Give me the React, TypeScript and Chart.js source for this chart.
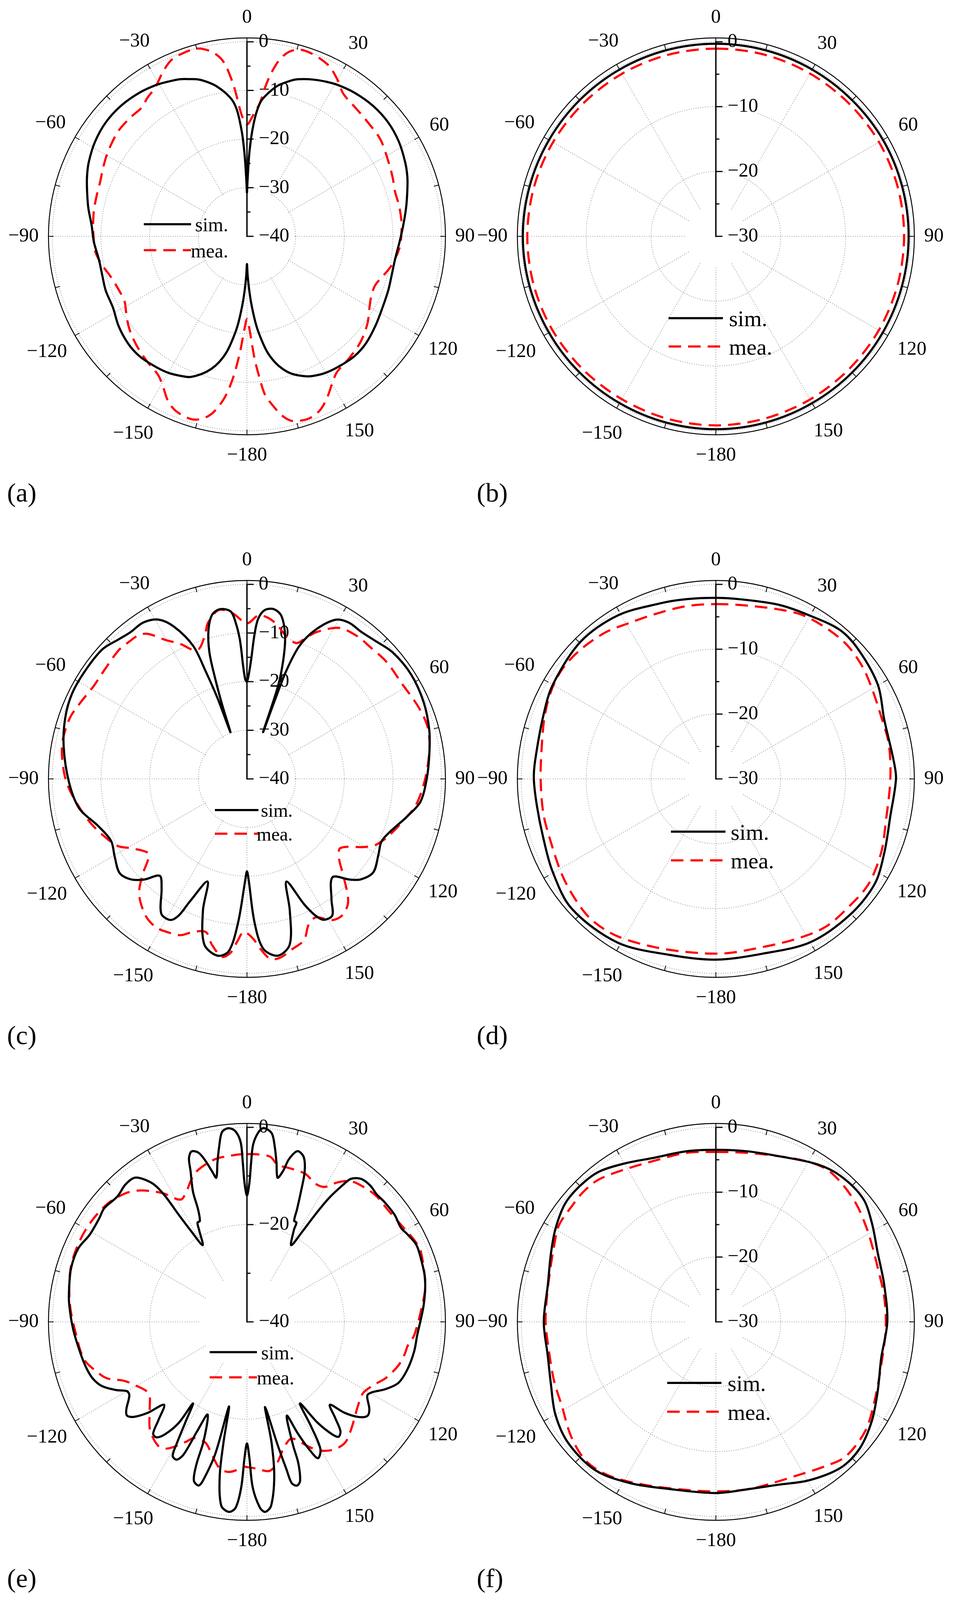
import React, { useEffect, useRef } from 'react';
import { Chart, registerables } from 'chart.js';

Chart.register(...registerables);

// ---------- tick labels ----------
const ANGLE_TICKS = [0, 30, 60, 90, 120, 150, 180, 210, 240, 270, 300, 330];
const ANGLE_TICK_LABELS = ['0', '30', '60', '90', '120', '150', '−180', '−150', '−120', '−90', '−60', '−30'];
const RADIAL_TICKS_40 = [0, -10, -20, -30, -40];
const RADIAL_TICKS_40E = [0, -20, -40];
const RADIAL_TICKS_30 = [0, -10, -20, -30];
const SERIES_NAMES = ['sim.', 'mea.'];
const PANEL_NAMES = ['(a)', '(b)', '(c)', '(d)', '(e)', '(f)'];

// angular category grid (0.5 degree steps, clockwise from top)
const STEP = 0.5;
const ANGLE_GRID = Array.from({ length: 720 }, (_, i) => i * STEP);

// ---------- data: [angle (deg), gain (dB)] ----------
const A_SIM = [[-180,-34.3],[-179,-32],[-177.5,-28.7],[-176,-25.5],[-174,-21.5],[-172,-18.5],[-170,-15.8],[-167.5,-13.5],[-165,-11.8],[-162,-10.3],[-158,-8.8],[-155,-8.3],[-150,-7.6],[-144,-7.2],[-138,-6.9],[-132,-7.1],[-125,-7.8],[-118,-8.8],[-111,-8.9],[-105,-9.2],[-99,-9.2],[-92,-8.5],[-86,-8.0],[-80,-6.9],[-75,-6.0],[-70,-5.0],[-65,-4.1],[-58,-3.2],[-51,-2.7],[-44,-2.7],[-37,-3.1],[-31,-3.7],[-27,-4.3],[-23,-4.9],[-20,-5.6],[-17,-6.3],[-14,-7.4],[-11.5,-8.5],[-8.5,-10.2],[-6,-12],[-4.5,-14],[-3.5,-16.5],[-2.5,-19.5],[-1.5,-24],[-0.5,-29],[0,-31],[0.5,-29],[1.5,-23.5],[2.5,-19.5],[3.5,-16.5],[4.5,-14.2],[6,-12],[8.5,-10.2],[11.5,-8.4],[14,-7.4],[17,-6.3],[20,-5.6],[23,-5.0],[27,-4.3],[31,-3.7],[37,-3.1],[44,-2.7],[51,-2.7],[58,-3.2],[65,-4.1],[70,-4.9],[75,-5.9],[80,-6.8],[86,-7.8],[92,-8.6],[99,-9.2],[105,-9.2],[111,-8.9],[118,-8.5],[125,-7.8],[132,-7.1],[138,-6.9],[144,-7.2],[150,-7.6],[155,-8.3],[158,-9.0],[162,-10.3],[165,-11.8],[167.5,-13.5],[170,-15.8],[172,-18.5],[174,-21.5],[176,-25.5],[177.5,-28.7],[179,-32]];
const A_MEA = [[-178.5,-21],[-176.5,-16],[-174.5,-11],[-172.5,-7.1],[-170.5,-4.5],[-168.5,-2.6],[-166,-1.3],[-163,-0.7],[-158,-1.2],[-154.5,-2.4],[-151,-4.5],[-147.5,-6.1],[-142,-7.0],[-136.5,-7.8],[-131,-8.7],[-126.5,-9.6],[-122,-10.7],[-118,-11.5],[-112,-11.4],[-106,-10.7],[-101,-9.6],[-96,-8.7],[-91,-8.5],[-86,-8.3],[-80.5,-8.1],[-75,-8.0],[-69.5,-7.8],[-65,-7.3],[-60,-6.7],[-55,-6.2],[-50,-5.8],[-44,-5.8],[-39,-5.8],[-36,-5.0],[-31.5,-4.0],[-27,-2.0],[-23,-0.5],[-19,-0.1],[-15.5,0],[-13,-0.5],[-10,-1.8],[-7.5,-4.0],[-5,-9.0],[-2.5,-15],[0,-17],[3,-15],[5.5,-12.5],[7,-9],[8.5,-6],[10.5,-3.0],[13,-1.0],[16,-0.1],[19,-0.1],[22.5,-0.5],[26,-1.2],[30,-2.8],[34,-4.6],[40,-5.4],[46,-5.8],[54,-6.1],[62,-7.1],[68,-7.7],[73,-8.2],[79,-8.1],[85,-8.1],[90,-8.3],[94,-8.5],[101,-9.6],[106,-10.8],[111,-11.8],[116,-11.6],[120,-10.9],[126,-9.4],[133,-8.1],[140,-7.3],[146.5,-6.5],[150,-5.0],[153.5,-3.0],[157,-1.3],[160.5,-0.5],[163.5,-0.5],[166.5,-1.0],[169,-2.5],[171.5,-5.0],[173.5,-7.2],[175,-11.0],[176.5,-15.0],[178.5,-21],[180,-23]];

const B_SIM = [[0,-0.3],[15,-0.3],[30,-0.3],[45,-0.3],[60,-0.25],[75,-0.27],[90,-0.28],[105,-0.3],[120,-0.3],[135,-0.3],[150,-0.3],[165,-0.27],[180,-0.25],[-165,-0.27],[-150,-0.3],[-135,-0.3],[-120,-0.3],[-105,-0.27],[-90,-0.24],[-75,-0.27],[-60,-0.3],[-45,-0.3],[-30,-0.3],[-15,-0.3]];
const B_MEA = [[0,-1.05],[15,-1.0],[30,-1.0],[45,-1.0],[60,-0.95],[75,-0.95],[90,-0.98],[105,-1.0],[120,-1.0],[135,-1.0],[150,-0.95],[165,-0.9],[180,-0.84],[-165,-0.9],[-150,-1.0],[-135,-1.0],[-120,-0.95],[-105,-0.93],[-90,-0.93],[-75,-0.95],[-60,-1.0],[-45,-1.05],[-30,-1.05],[-15,-1.05]];

const C_SIM = [[-179,-19.1],[-176.5,-10.5],[-174,-4.4],[-170.5,-3.15],[-165.5,-4.9],[-161.5,-11.5],[-159,-17.4],[-155,-12.15],[-153.5,-8.65],[-151.5,-7.0],[-147.5,-7.2],[-142,-11.5],[-138,-13.2],[-134.5,-10.5],[-131,-8.5],[-126.5,-7.45],[-120.5,-8.45],[-114.5,-9.3],[-107.5,-7.9],[-100,-5.0],[-91,-3.4],[-80,-1.74],[-71.5,-0.6],[-64,0],[-56,0],[-48,-0.1],[-42.5,-1.04],[-38.5,-1.48],[-33.5,-1.43],[-29,-2.55],[-25.5,-5.4],[-22,-10.5],[-21,-16.2],[-20,-22.5],[-19.5,-29.8],[-18.5,-24],[-17.5,-18],[-16.5,-12.8],[-14.5,-8.4],[-12,-5.5],[-9,-4.66],[-5.5,-5.45],[-4,-8.1],[-3,-11],[-2.5,-13.5],[-2,-16.5],[-1,-19.5],[0,-20],[1,-18.5],[2,-15.5],[3,-10.2],[4,-7.0],[6,-5.1],[9,-4.66],[12,-5.8],[15,-9.7],[17,-14.5],[18.5,-19.9],[19,-29.8],[19.5,-23.2],[20,-16.3],[21.5,-10.65],[24.5,-6.45],[29,-2.6],[33,-1.65],[38,-1.7],[42.5,-1.3],[49,-0.33],[57.5,0],[66.5,-0.4],[75,-1.2],[82.5,-2.2],[90,-3.05],[97.5,-4.03],[103,-6.1],[110.5,-8.7],[115,-9.5],[120,-8.8],[126.5,-7.7],[131.5,-8.8],[134.5,-10.5],[139,-13.2],[145,-9.7],[148,-6.9],[151.5,-7.05],[153.5,-8.7],[155.5,-11.7],[159,-17.4],[162,-11.5],[165.5,-4.85],[170,-3.1],[174.5,-4.9],[177,-10.5],[179,-19.1],[180,-21]];
const C_MEA = [[-178.5,-8.5],[-176.5,-6.4],[-174.5,-4.0],[-172,-3.07],[-168,-5.2],[-165,-7.4],[-160.5,-6.6],[-157,-5.1],[-152.5,-4.5],[-148.5,-4.2],[-143.5,-5.0],[-137,-7.5],[-132.5,-10.9],[-129,-13.9],[-126.5,-14.55],[-121,-12.3],[-117.5,-10.1],[-112,-8.4],[-105,-6.4],[-96,-4.1],[-90,-2.7],[-83,-1.7],[-78,-1.3],[-71,-1.5],[-65,-2.4],[-59,-3.15],[-52,-3.1],[-45,-2.65],[-41,-2.8],[-36.5,-3.06],[-34,-4.1],[-30.5,-6.8],[-26,-9.2],[-23,-11.1],[-20,-11.45],[-16,-8.9],[-14,-6.9],[-9.5,-4.8],[-5,-5.8],[0,-8.0],[4,-6.3],[7.5,-6.6],[11,-7.7],[15.5,-9.6],[20,-10.3],[22.5,-8.7],[25.5,-6.5],[31.5,-3.6],[38,-2.9],[43,-2.9],[50,-2.55],[58.5,-2.6],[66.5,-1.85],[73,-1.36],[78.5,-1.7],[84.5,-2.55],[91.5,-3.6],[99,-4.9],[105,-6.76],[111.5,-8.5],[117,-10.2],[120,-12],[126.5,-16.1],[131,-14.9],[135,-12],[140.5,-7.3],[145,-5.8],[149,-6.1],[153.5,-8.2],[157,-7.5],[160.5,-4.85],[165,-3.8],[169.5,-2.6],[172.5,-2.65],[175,-4.5],[177.5,-6.9],[180,-8.3]];

const D_SIM = [[-165.5,-1.95],[-149,-0.56],[-132,-0.1],[-119.5,-1.06],[-108.5,-1.9],[-98.5,-2.1],[-90,-1.94],[-84,-2.0],[-70,-1.68],[-60,-0.97],[-44.5,-0.29],[-31,-0.6],[-17.5,-1.6],[-9.5,-1.9],[0,-2.08],[8,-2.04],[20,-1.44],[30,-0.94],[40,-0.1],[48.5,-0.37],[60,-1.13],[70.5,-2.47],[84,-2.45],[90,-2.23],[102,-2.5],[113.5,-1.66],[123.5,-0.64],[135.5,-0.56],[150,-0.9],[165,-2.1],[180,-2.13]];
const D_MEA = [[-172,-2.98],[-160,-2.39],[-148,-1.38],[-139,-1.03],[-131.5,-1.4],[-122,-2.05],[-109.5,-2.8],[-101,-2.88],[-90,-2.99],[-79.5,-2.7],[-70,-1.9],[-62,-1.22],[-54.5,-0.89],[-46.5,-1.13],[-37,-1.71],[-29,-2.5],[-20.5,-2.9],[-10,-2.97],[0,-3.04],[10.5,-2.83],[20.5,-2.11],[28,-1.41],[37,-1.16],[44.5,-1.1],[52.5,-1.53],[60,-2.2],[69,-2.75],[78.5,-2.8],[90,-3.1],[104,-2.99],[114,-2.1],[124.5,-1.42],[133.5,-1.56],[143.5,-1.6],[154,-2.44],[167.5,-3.15],[177.5,-3.06]];

const E_SIM = [[-179,-12.15],[-178,-5.9],[-176.5,-1.7],[-174.5,-0.75],[-172,-1.9],[-170,-7.75],[-169,-14.7],[-168,-22.2],[-166.5,-12.05],[-164.5,-6.1],[-163.5,-4.9],[-161.5,-5.6],[-160.5,-8.8],[-160,-14.0],[-157,-19.3],[-155.5,-15.2],[-154.5,-9.85],[-153,-8.2],[-151,-8.5],[-150,-11.2],[-148.5,-15.75],[-146.5,-19.9],[-146,-15.0],[-144,-11.5],[-142,-9.85],[-140,-10.0],[-138,-12.8],[-135,-15.9],[-132.5,-12.3],[-130,-9.6],[-128,-8.7],[-126,-9.35],[-122,-11.5],[-120,-11.5],[-117.5,-9.65],[-114,-7.45],[-110.5,-6.3],[-106.5,-5.7],[-101,-5.2],[-92.5,-4.25],[-84.5,-3.3],[-80,-2.86],[-73,-2.2],[-66.5,-2.18],[-61,-3.04],[-55,-2.92],[-51.5,-2.5],[-46,-2.93],[-41.5,-2.3],[-38,-2.4],[-36,-3.7],[-34,-6.0],[-33,-9.2],[-32.5,-13.8],[-31.5,-18.4],[-30,-21.8],[-27.5,-18.7],[-26.5,-17.2],[-25,-17.1],[-23.5,-14.8],[-22.5,-11.0],[-20.5,-6.9],[-19.5,-4.3],[-18,-3.15],[-16,-3.8],[-14.5,-5.7],[-13,-8.3],[-12,-9.7],[-10.5,-6.7],[-9,-3.5],[-7.5,-0.65],[-5.5,0],[-3.5,-0.7],[-2,-3.05],[-1.5,-7.2],[-1,-11.45],[0,-14],[1,-11.45],[1.5,-7.2],[2,-3.5],[3.5,-0.9],[5,0],[7.5,-0.9],[9,-3.5],[10.5,-6.7],[12,-9.7],[13.5,-8.0],[14.5,-5.4],[16.5,-3.4],[19,-4.15],[21,-6.9],[22.5,-11],[24,-14.75],[25,-17.05],[26.5,-17.2],[27,-18.7],[30,-21.8],[31.5,-18.3],[32.5,-13.7],[33.5,-9.5],[35,-5.66],[36,-3.65],[38.5,-2.4],[42,-2.2],[45.5,-2.6],[49,-2.5],[54,-2.5],[58.5,-2.9],[61.5,-2.4],[65.5,-1.75],[70,-1.95],[76.5,-2.35],[84.5,-3.5],[94.5,-4.9],[100,-5.1],[106.5,-5.6],[112,-6.45],[116,-8.4],[119.5,-10.55],[121.5,-11.0],[125.5,-9.1],[128,-8.6],[130.5,-9.9],[133,-12.6],[135,-15.9],[137.5,-13.1],[139.5,-10.4],[141.5,-9.8],[143,-11.2],[145,-14.7],[147,-20],[148.5,-14.7],[150,-9.8],[152.5,-8.4],[154,-10.85],[155.5,-14.75],[157,-19.05],[159.5,-13],[160,-9.2],[161.5,-5.55],[163,-4.8],[164.5,-5.6],[165,-8.55],[166,-13.9],[168,-22.1],[168.5,-14.6],[170,-7.7],[172.5,-1.9],[174.5,-0.75],[176,-1.7],[178,-5.9],[179,-12.15],[180,-15]];
const E_MEA = [[-179,-10.2],[-173.5,-8.95],[-169.5,-9.35],[-165,-11.9],[-161,-13.75],[-155.5,-13.75],[-153,-12.3],[-148,-9.3],[-144.5,-8.65],[-138,-10.2],[-132,-13.1],[-126,-15.0],[-119,-13.4],[-115.5,-11.9],[-112,-9.0],[-109,-7.7],[-103,-5.65],[-94,-4.75],[-84.5,-3.45],[-74,-2.2],[-66.5,-1.83],[-58.5,-1.86],[-50,-2.4],[-43.5,-3.6],[-39.5,-5.0],[-36,-6.8],[-33,-8.5],[-28.5,-11.4],[-25,-10.5],[-21,-8.4],[-17.5,-7.1],[-11,-5.9],[-6.5,-5.7],[-2,-5.5],[0,-5.5],[4,-5.5],[8,-5.7],[10.5,-6.9],[12,-7.2],[15,-7.2],[19.5,-7.2],[22,-7.35],[26.5,-8.3],[30,-7.95],[33,-5.8],[36.5,-4.0],[42,-3.2],[46,-2.9],[51.5,-3.0],[60,-2.3],[64,-1.7],[68,-1.45],[78.5,-2.6],[85,-3.9],[94.5,-5.5],[98.5,-6.6],[101.5,-6.9],[106,-7.6],[112,-9.2],[116.5,-10.9],[121.5,-12.0],[126.5,-11.5],[136,-9.2],[141,-8.0],[146,-8.3],[150.5,-9.6],[153.5,-11.25],[159,-14.3],[163.5,-13.1],[168,-10.3],[171.5,-9.0],[176.5,-9.8],[180,-10.15]];

const F_SIM = [[-164.5,-3.25],[-152,-1.84],[-141,-0.53],[-129.5,-0.55],[-120,-1.43],[-110.5,-2.84],[-101.5,-3.56],[-90,-3.47],[-77.5,-3.47],[-67.5,-2.48],[-60,-1.43],[-52,-0.47],[-45,-0.36],[-38,-0.64],[-30,-1.8],[-20.5,-2.97],[-10,-3.3],[0,-3.47],[10.5,-3.25],[21,-2.65],[32.5,-1.14],[40.5,-0.4],[50,-0.39],[57.5,-1.5],[67,-2.88],[77.5,-3.42],[90,-3.57],[102.5,-3.9],[113,-2.88],[122.5,-1.5],[131.5,-0.44],[139.5,-0.4],[149.5,-1.65],[159,-3.1],[169,-3.72],[180,-3.6]];
const F_MEA = [[-168,-3.59],[-155.5,-2.47],[-145,-1.1],[-137,-0.67],[-128.5,-1.52],[-118.5,-2.96],[-110,-3.45],[-99.5,-3.88],[-90,-3.75],[-81.5,-3.67],[-73.5,-3.3],[-65.5,-2.53],[-58.5,-1.6],[-51.5,-1.52],[-45.5,-1.37],[-39.5,-1.57],[-31,-2.6],[-20.5,-3.42],[-10,-3.54],[0,-3.8],[10.5,-3.49],[21,-2.65],[28.5,-1.7],[35.5,-0.94],[42,-1.13],[50,-1.74],[57.5,-2.56],[63.5,-3.15],[72,-3.7],[81.5,-3.76],[92,-3.79],[104.5,-3.66],[116,-2.72],[126,-1.49],[136,-1.16],[143,-2.1],[152,-3.2],[160.5,-3.65],[169,-3.72],[180,-3.85]];

// ---------- styling / layout ----------
const FONT = '"Liberation Serif", "Times New Roman", serif';
const GRID = '#8a8a8a';
const CW = 1222;
const CH = 1320;
const RAD = 498;
const CY = 605;

const PANELS = [
  { sim: A_SIM, mea: A_MEA, min: -40, labels: RADIAL_TICKS_40, major: 10, minor: 5, grid: [-30, -20, -10, 0], left: 0, top: 0, cx: 632, spoke: 122, nameX: 18,
    lg: { y1: -31, y2: 35.6, x0: -264, x1: -143, tx: -48, align: 'right', size: 50 } },
  { sim: B_SIM, mea: B_MEA, min: -30, labels: RADIAL_TICKS_30, major: 10, minor: 5, grid: [-20, -10, 0], left: 1212, top: 0, cx: 620, spoke: 80, nameX: 8,
    lg: { y1: 209.6, y2: 282, x0: -121, x1: 18, tx: 33.5, align: 'left', size: 58 } },
  { sim: C_SIM, mea: C_MEA, min: -40, labels: RADIAL_TICKS_40, major: 10, minor: 5, grid: [-30, -20, -10, 0], left: 0, top: 1389, cx: 632, spoke: 122, nameX: 18,
    lg: { y1: 79.7, y2: 140.3, x0: -82, x1: 29.5, tx: 117, align: 'right', size: 48 } },
  { sim: D_SIM, mea: D_MEA, min: -30, labels: RADIAL_TICKS_30, major: 10, minor: 5, grid: [-20, -10, 0], left: 1212, top: 1389, cx: 620, spoke: 80, nameX: 8,
    lg: { y1: 135, y2: 208.6, x0: -115, x1: 24.6, tx: 38, align: 'left', size: 58 } },
  { sim: E_SIM, mea: E_MEA, min: -40, labels: RADIAL_TICKS_40E, major: 20, minor: 10, grid: [-20, 0], left: 0, top: 2779, cx: 632, spoke: 122, nameX: 18,
    lg: { y1: 77.5, y2: 141.9, x0: -95.5, x1: 25.5, tx: 121, align: 'right', size: 50 } },
  { sim: F_SIM, mea: F_MEA, min: -30, labels: RADIAL_TICKS_30, major: 10, minor: 5, grid: [-20, -10, 0], left: 1212, top: 2779, cx: 620, spoke: 80, nameX: 8,
    lg: { y1: 156.3, y2: 230, x0: -124.6, x1: 14.3, tx: 30, align: 'left', size: 58 } },
];

function angleIndex(a) {
  return Math.round((((a % 360) + 360) % 360) / STEP) % ANGLE_GRID.length;
}

function toSeries(pairs) {
  const arr = ANGLE_GRID.map(() => null);
  pairs.forEach(([a, v]) => { arr[angleIndex(a)] = v; });
  return arr;
}

function fmt(v) {
  return v === 0 ? '0' : '−' + Math.abs(v);
}

function decorPlugin(p, name) {
  return {
    id: 'polarDecor',
    beforeDatasetsDraw(chart) {
      const s = chart.scales.r;
      const ctx = chart.ctx;
      const cx = s.xCenter, cy = s.yCenter, R = s.drawingArea;
      const pos = (deg, d) => s.getPointPosition(deg / STEP, d);
      ctx.save();
      // spokes
      ctx.strokeStyle = GRID; ctx.lineWidth = 1.6; ctx.setLineDash([2, 4]);
      for (let a = 0; a < 360; a += 30) {
        const p0 = pos(a, p.spoke), p1 = pos(a, R);
        ctx.beginPath(); ctx.moveTo(p0.x, p0.y); ctx.lineTo(p1.x, p1.y); ctx.stroke();
      }
      ctx.setLineDash([]);
      // radial tick labels
      ctx.font = `50px ${FONT}`; ctx.textAlign = 'left'; ctx.textBaseline = 'middle';
      p.labels.forEach((v) => {
        const t = fmt(v);
        const y = cy - s.getDistanceFromCenterForValue(v);
        const x = cx + 30;
        const w = ctx.measureText(t).width;
        ctx.fillStyle = '#fff'; ctx.fillRect(x - 2, y - 17, w + 4, 34);
        ctx.fillStyle = '#000'; ctx.fillText(t, x, y);
      });
      // outer circle
      ctx.strokeStyle = '#000'; ctx.lineWidth = 2.4;
      ctx.beginPath(); ctx.arc(cx, cy, R + 10, 0, Math.PI * 2); ctx.stroke();
      // angular ticks every 15 deg
      ctx.lineWidth = 2;
      for (let a = 0; a < 360; a += 15) {
        const p0 = pos(a, R + 10), p1 = pos(a, R - 3);
        ctx.beginPath(); ctx.moveTo(p0.x, p0.y); ctx.lineTo(p1.x, p1.y); ctx.stroke();
      }
      // angle labels
      ctx.font = `50px ${FONT}`; ctx.textAlign = 'center'; ctx.textBaseline = 'middle'; ctx.fillStyle = '#000';
      ANGLE_TICKS.forEach((a, i) => {
        const t = ANGLE_TICK_LABELS[i];
        const w = ctx.measureText(t).width;
        const h = 55;
        const rad = (a * Math.PI) / 180;
        const d = R + 35 + (w / 2) * Math.abs(Math.sin(rad)) + (h / 2) * Math.abs(Math.cos(rad));
        const q = pos(a, d);
        ctx.fillText(t, q.x, q.y);
      });
      ctx.restore();
    },
    afterDatasetsDraw(chart) {
      const s = chart.scales.r;
      const ctx = chart.ctx;
      const cx = s.xCenter, cy = s.yCenter, R = s.drawingArea;
      ctx.save();
      // radial axis
      ctx.strokeStyle = '#000'; ctx.lineWidth = 3.5; ctx.lineCap = 'butt';
      ctx.beginPath(); ctx.moveTo(cx, cy + 1.5); ctx.lineTo(cx, cy - R - 1.5); ctx.stroke();
      ctx.lineWidth = 3;
      for (let v = p.min; v <= 0.001; v += p.minor) {
        const y = cy - s.getDistanceFromCenterForValue(v);
        const len = Math.abs(v % p.major) < 0.001 ? 17 : 9;
        ctx.beginPath(); ctx.moveTo(cx, y); ctx.lineTo(cx + len, y); ctx.stroke();
      }
      // legend
      const lg = p.lg;
      ctx.lineWidth = 5.5;
      ctx.strokeStyle = '#000'; ctx.setLineDash([]);
      ctx.beginPath(); ctx.moveTo(cx + lg.x0, cy + lg.y1); ctx.lineTo(cx + lg.x1, cy + lg.y1); ctx.stroke();
      ctx.strokeStyle = '#ff0000'; ctx.setLineDash([32, 18]);
      ctx.beginPath(); ctx.moveTo(cx + lg.x0, cy + lg.y2); ctx.lineTo(cx + lg.x1, cy + lg.y2); ctx.stroke();
      ctx.setLineDash([]);
      ctx.fillStyle = '#000';
      ctx.font = `${lg.size}px ${FONT}`;
      ctx.textAlign = lg.align; ctx.textBaseline = 'alphabetic';
      const off = lg.size * 0.36;
      ctx.fillText(SERIES_NAMES[0], cx + lg.tx, cy + lg.y1 + off);
      ctx.fillText(SERIES_NAMES[1], cx + lg.tx, cy + lg.y2 + off);
      // panel label
      ctx.font = `68px ${FONT}`; ctx.textAlign = 'left';
      ctx.fillText(name, p.nameX, cy + 679);
      ctx.restore();
    },
  };
}

function PolarPanel({ p, name }) {
  const ref = useRef(null);
  useEffect(() => {
    const canvas = ref.current;
    if (!canvas) return;
    const chart = new Chart(canvas, {
      type: 'radar',
      data: {
        labels: ANGLE_GRID.map((a) => String(a)),
        datasets: [
          { label: SERIES_NAMES[0], data: toSeries(p.sim), borderColor: '#000000', borderWidth: 5.5, pointRadius: 0, pointHoverRadius: 0, pointHitRadius: 0, fill: false, spanGaps: true, tension: 0.32, borderJoinStyle: 'round', clip: false },
          { label: SERIES_NAMES[1], data: toSeries(p.mea), borderColor: '#ff0000', borderWidth: 5.5, borderDash: [32, 18], pointRadius: 0, pointHoverRadius: 0, pointHitRadius: 0, fill: false, spanGaps: true, tension: 0.32, borderJoinStyle: 'round', clip: false },
        ],
      },
      options: {
        responsive: false,
        maintainAspectRatio: false,
        animation: false,
        events: [],
        layout: { padding: { left: p.cx - RAD, right: CW - p.cx - RAD, top: CY - RAD, bottom: CH - CY - RAD } },
        plugins: { legend: { display: false }, tooltip: { enabled: false }, title: { display: false } },
        scales: {
          r: {
            min: p.min,
            max: 0,
            startAngle: 0,
            ticks: { display: false, stepSize: 10 },
            pointLabels: { display: false },
            angleLines: { display: false },
            grid: {
              circular: true,
              lineWidth: 1.6,
              color: (ctx) => (ctx.tick && p.grid.includes(ctx.tick.value) ? GRID : 'rgba(0,0,0,0)'),
              borderDash: [2, 4],
            },
            border: { dash: [2, 4] },
          },
        },
      },
      plugins: [decorPlugin(p, name)],
    });
    return () => chart.destroy();
  }, [p, name]);
  return (
    <canvas
      ref={ref}
      width={CW}
      height={CH}
      style={{ position: 'absolute', left: p.left, top: p.top, width: CW, height: CH }}
    />
  );
}

export default function App() {
  return (
    <div style={{ position: 'absolute', left: 0, top: 0, width: 2444, height: 4104, background: '#ffffff', overflow: 'hidden' }}>
      {PANELS.map((p, i) => (
        <PolarPanel key={i} p={p} name={PANEL_NAMES[i]} />
      ))}
    </div>
  );
}
